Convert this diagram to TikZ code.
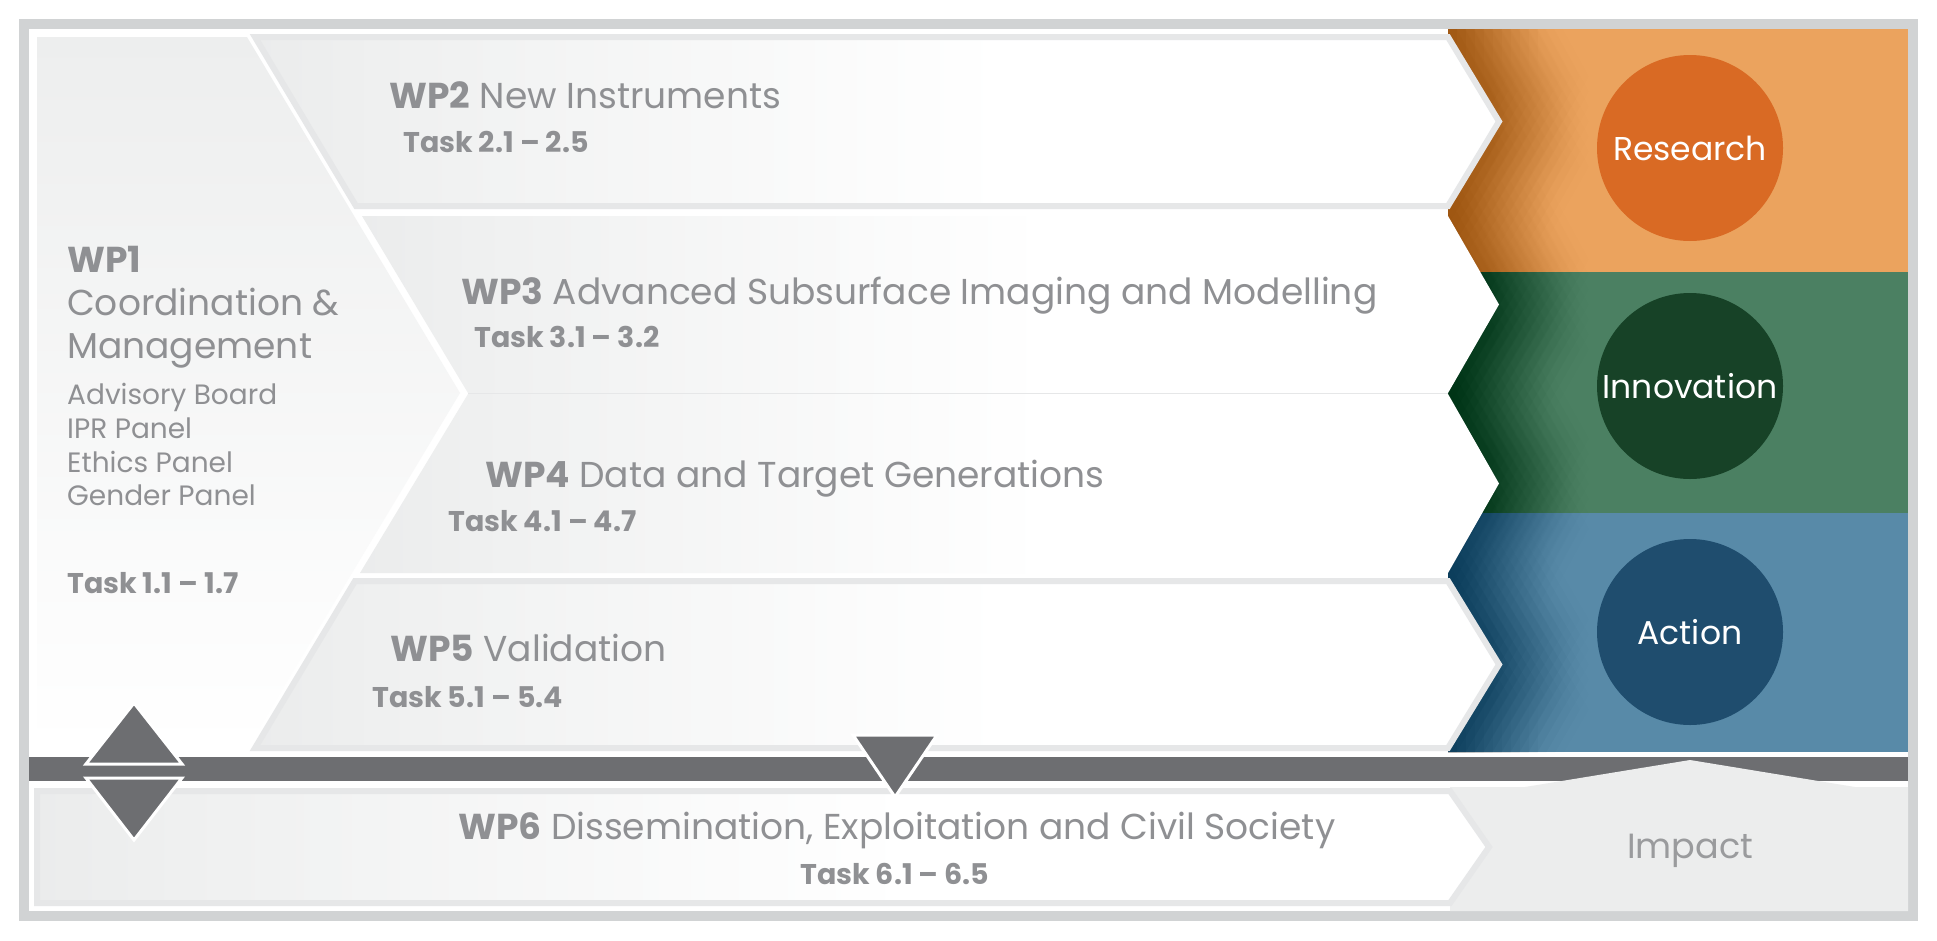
\documentclass[tikz,border=0pt]{standalone}
\usepackage{fontspec}
\setmainfont{Poppins}
\definecolor{bordergray}{HTML}{D1D3D4}
\definecolor{edgegray}{HTML}{E6E7E8}
\definecolor{bargray}{HTML}{6D6E71}
\definecolor{txtgray}{HTML}{8F9093}
\definecolor{impgray}{HTML}{ECEDED}
\definecolor{imptxt}{HTML}{9A9B9D}
\definecolor{orangeband}{HTML}{EBA35E}
\definecolor{orangecirc}{HTML}{D96A24}
\definecolor{greenband}{HTML}{4B8062}
\definecolor{greencirc}{HTML}{174227}
\definecolor{blueband}{HTML}{588AA8}
\definecolor{bluecirc}{HTML}{1F4D6E}
\definecolor{pnlgray}{HTML}{D7D8D9}
\definecolor{pnlmid}{HTML}{EFF0F0}
\definecolor{wpone}{HTML}{EDEEEE}
\pgfdeclarehorizontalshading{panelshade}{100bp}{color(0bp)=(pnlgray); color(30bp)=(pnlmid); color(55bp)=(white); color(100bp)=(white)}
\newcommand{\wpfont}{\fontsize{36}{43}\selectfont}
\newcommand{\taskfont}{\fontsize{28.5}{33}\selectfont\bfseries}
\newcommand{\subfont}{\fontsize{28}{34}\selectfont}
\newcommand{\circfont}{\fontsize{33}{38}\selectfont}
\begin{document}
\begin{tikzpicture}[x=1pt,y=-1pt,
  lbl/.style={anchor=base west, inner sep=0pt, text=txtgray},
  pone/.style={insert path={(37,37) -- (247,37) -- (460,393) -- (247,748) -- (37,748) -- cycle}},
  ptwo/.style={insert path={(255,37) -- (1448,37) -- (1499,121.5) -- (1448,206) -- (356,206) -- cycle}},
  pthree/.style={insert path={(362,216) -- (1448,216) -- (1499,304.5) -- (1448,393) -- (468,393) -- cycle}},
  pfour/.style={insert path={(468,394) -- (1448,394) -- (1499,483.5) -- (1448,573) -- (360,573) -- cycle}},
  pfive/.style={insert path={(355,581) -- (1448,581) -- (1499,664.5) -- (1448,748) -- (255,748) -- cycle}},
  psix/.style={insert path={(37,791) -- (1450,791) -- (1489,847) -- (1450,903) -- (37,903) -- cycle}},
  shadowpath/.style={insert path={(1300,-40) -- (1448,-40) -- (1448,29) -- (1499,121.5) -- (1448,211) -- (1499,304.5) -- (1448,393.5) -- (1499,483.5) -- (1448,577) -- (1499,664.5) -- (1448,752) -- (1448,820) -- (1300,820) -- cycle}},
  tri/.style={fill=bargray, draw=white, line width=3pt, line join=miter},
  circ/.style={circle, minimum size=186pt, inner sep=0pt, text=white, font=\circfont}
]
\useasboundingbox (0,0) rectangle (1937,940);
\fill[white] (0,0) rectangle (1937,940);
\fill[bordergray] (19,19) rectangle (1918,921);
\fill[white] (29,29) rectangle (1908,911);
% coloured bands
\fill[orangeband] (1448,29) rectangle (1908,272);
\fill[greenband] (1448,272) rectangle (1908,513);
\fill[blueband] (1448,513) rectangle (1908,752);
\begin{scope}
  \clip (1448,29) rectangle (1908,752);
  \foreach \dx in {0,9,...,90} {
    \foreach \dy in {-45,-30,...,45} {
      \fill[black, opacity=0.0045, xshift={1pt*\dx}, yshift={1pt*\dy}, shadowpath];
    }
  }
\end{scope}
% panels
\shade[top color=wpone, bottom color=white, pone];
\shadedraw[shading=panelshade, draw=edgegray, line width=6pt, ptwo];
\shade[shading=panelshade, pthree];
\shade[shading=panelshade, pfour];
\draw[edgegray, line width=1.5pt] (468,393.5) -- (1448,393.5);
\shadedraw[shading=panelshade, draw=edgegray, line width=6pt, pfive];
% bottom band
\fill[bargray] (29,757) rectangle (1908,781);
\fill[impgray] (1450,787) -- (1525,787) -- (1690,760) -- (1855,787) -- (1908,787) -- (1908,911) -- (1450,911) -- cycle;
\shadedraw[shading=panelshade, draw=edgegray, line width=6pt, psix];
% triangles
\draw[tri] (86,764) -- (182,764) -- (134,703) -- cycle;
\draw[tri] (86,778) -- (182,778) -- (134,840) -- cycle;
\draw[tri] (853,735) -- (937,735) -- (895,797) -- cycle;
% circles
\node[circ, fill=orangecirc] (research) at (1690,148) {Research};
\node[circ, fill=greencirc] (innovation) at (1690,386) {Innovation};
\node[circ, fill=bluecirc] (action) at (1690,632) {Action};
\node[anchor=base, inner sep=0pt, text=imptxt, font=\fontsize{35}{40}\selectfont] (impact) at (1690,858) {Impact};
% WP1 texts
\node[lbl, font=\wpfont\bfseries] (wp1) at (67,272) {WP1};
\node[lbl, font=\wpfont] (wp1a) at (67,315) {Coordination \&};
\node[lbl, font=\wpfont] (wp1b) at (67,358) {Management};
\node[lbl, font=\subfont] (wp1c) at (67,404) {Advisory Board};
\node[lbl, font=\subfont] (wp1d) at (67,438) {IPR Panel};
\node[lbl, font=\subfont] (wp1e) at (67,472) {Ethics Panel};
\node[lbl, font=\subfont] (wp1f) at (67,505) {Gender Panel};
\node[lbl, font=\taskfont] (t1) at (67,593) {Task 1.1 -- 1.7};
% WP2-WP6 texts
\node[lbl, font=\wpfont] (wp2) at (389,108) {\textbf{WP2} New Instruments};
\node[lbl, font=\taskfont] (t2) at (403,152) {Task 2.1 -- 2.5};
\node[lbl, font=\wpfont] (wp3) at (461,304) {\textbf{WP3} Advanced Subsurface Imaging and Modelling};
\node[lbl, font=\taskfont] (t3) at (474,347) {Task 3.1 -- 3.2};
\node[lbl, font=\wpfont] (wp4) at (485,487) {\textbf{WP4} Data and Target Generations};
\node[lbl, font=\taskfont] (t4) at (448,531) {Task 4.1 -- 4.7};
\node[lbl, font=\wpfont] (wp5) at (390,661) {\textbf{WP5} Validation};
\node[lbl, font=\taskfont] (t5) at (372,707) {Task 5.1 -- 5.4};
\node[lbl, font=\wpfont] (wp6) at (458,839) {\textbf{WP6} Dissemination, Exploitation and Civil Society};
\node[lbl, font=\taskfont] (t6) at (800,884) {Task 6.1 -- 6.5};
\end{tikzpicture}
\end{document}
